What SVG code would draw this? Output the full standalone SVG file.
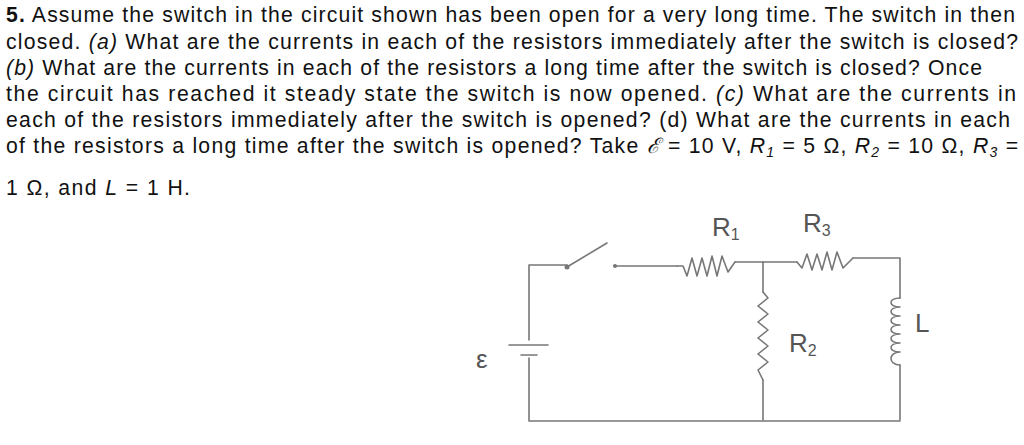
<svg xmlns="http://www.w3.org/2000/svg" width="1024" height="445" viewBox="0 0 1024 445">
<style>
.t{font-family:"Liberation Sans",Arial,sans-serif;font-size:21.2px;fill:#111}
.h{font-family:"Liberation Sans",Arial,sans-serif;font-size:26px;fill:#555}
.w{fill:none;stroke:#777;stroke-width:1.6;stroke-linecap:round;stroke-linejoin:round}
</style>
<rect width="1024" height="445" fill="#fff"/>
<g id="text">
<text class="t" x="6" y="22" textLength="1009" lengthAdjust="spacing"><tspan font-weight="bold">5.</tspan> Assume the switch in the circuit shown has been open for a very long time. The switch in then</text>
<text class="t" x="6" y="49" textLength="1012" lengthAdjust="spacing">closed. <tspan font-style="italic">(a)</tspan> What are the currents in each of the resistors immediately after the switch is closed?</text>
<text class="t" x="6" y="75" textLength="976" lengthAdjust="spacing"><tspan font-style="italic">(b)</tspan> What are the currents in each of the resistors a long time after the switch is closed? Once</text>
<text class="t" x="6" y="101" textLength="1010" lengthAdjust="spacing">the circuit has reached it steady state the switch is now opened. <tspan font-style="italic">(c)</tspan> What are the currents in</text>
<text class="t" x="6" y="127" textLength="1004" lengthAdjust="spacing">each of the resistors immediately after the switch is opened? (d) What are the currents in each</text>
<text class="t" x="6" y="153" textLength="1012" lengthAdjust="spacing">of the resistors a long time after the switch is opened? Take <tspan font-style="italic">ℰ</tspan> = 10 V, <tspan font-style="italic">R<tspan font-size="14" dy="4">1</tspan></tspan><tspan dy="-4"> = 5 Ω, </tspan><tspan font-style="italic">R<tspan font-size="14" dy="4">2</tspan></tspan><tspan dy="-4"> = 10 Ω, </tspan><tspan font-style="italic">R<tspan font-size="14" dy="4">3</tspan></tspan><tspan dy="-4"> =</tspan></text>
<text class="t" x="6" y="195" textLength="184" lengthAdjust="spacing">1 Ω, and <tspan font-style="italic">L</tspan> = 1 H.</text>
</g>
<g id="connectors">
<path class="w" d="M529 340 V265 H567"/>
<path class="w" d="M567 267 L607 243"/>
<circle cx="567" cy="267" r="2.5" fill="#777"/>
<circle cx="615" cy="266" r="2" fill="#777"/>
<path class="w" d="M615 266 H677"/>
<path class="w" d="M735 262 H797"/>
<path class="w" d="M853 258 H900 V298"/>
<path class="w" d="M763 262 V292"/>
<path class="w" d="M763 380 V420"/>
<path class="w" d="M900 365 V420"/>
<path class="w" d="M529 358 V421 H900"/>
</g>
<g id="battery">
<path class="w" d="M509 345 H548"/>
<path class="w" d="M521 355 H537" stroke-width="2.4"/>
<text class="h" x="476" y="368" font-family="Liberation Serif">ε</text>
</g>
<g id="R1">
<path class="w" d="M677 266 L683 266 L687 276 L692 258 L697 276 L702 258 L707 276 L712 256 L717 276 L722 256 L728 272 L735 262"/>
<text class="h" x="712" y="236">R<tspan font-size="16" dy="4">1</tspan></text>
</g>
<g id="R3">
<path class="w" d="M797 262 L802 268 L807 254 L812 270 L817 254 L822 270 L827 252 L832 270 L837 252 L843 268 L853 258"/>
<text class="h" x="803" y="232">R<tspan font-size="16" dy="4">3</tspan></text>
</g>
<g id="R2">
<path class="w" d="M763 292 L768 298 L758 306 L768 314 L758 322 L768 330 L758 338 L768 346 L758 354 L768 362 L758 370 L763 380"/>
<text class="h" x="789" y="352">R<tspan font-size="16" dy="4">2</tspan></text>
</g>
<g id="L">
<path class="w" d="M900 298 C888 298 888 307 900 307 C888 307 888 316 900 316 C888 316 888 325 900 325 C888 325 888 334 900 334 C888 334 888 343 900 343 C888 343 888 352 900 352 C888 352 888 365 900 365"/>
<text class="h" x="915" y="332">L</text>
</g>
</svg>
